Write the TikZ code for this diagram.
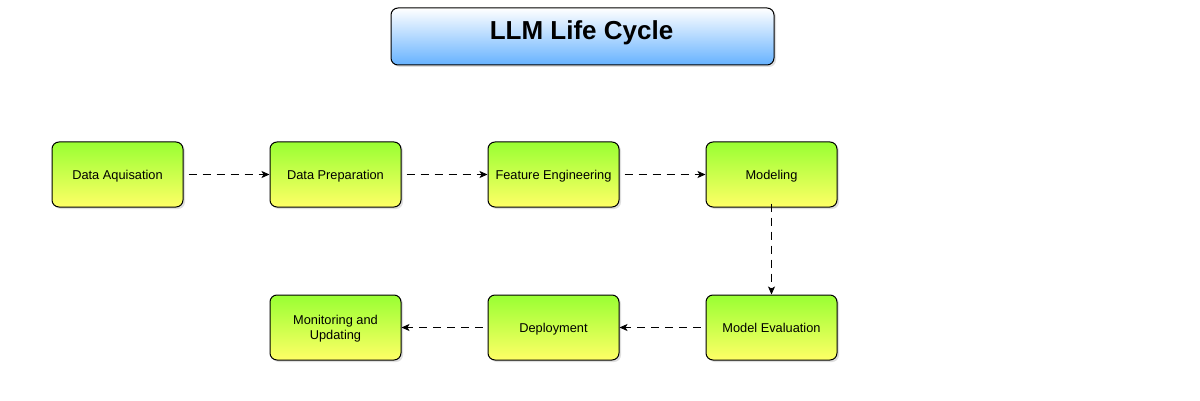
\documentclass[tikz,border=0pt]{standalone}
\usepackage{fontspec}
\setmainfont{Liberation Sans}
\usetikzlibrary{arrows.meta,shadows}
\definecolor{boxtop}{HTML}{99FF33}
\definecolor{boxbot}{HTML}{FFFF66}
\definecolor{titlebot}{HTML}{66B2FF}
\tikzset{
  stagebox/.style={draw=black, line width=1pt, rounded corners=7pt, minimum width=131pt, minimum height=65pt,
    top color=boxtop, bottom color=boxbot, align=center, font=\fontsize{12.8}{15.5}\selectfont,
    text depth=0pt,
    drop shadow={shadow xshift=2pt, shadow yshift=-2pt, opacity=0.25}},
  titlebox/.style={draw=black, line width=1pt, rounded corners=7pt, minimum width=383pt, minimum height=57pt,
    top color=white, bottom color=titlebot,
    drop shadow={shadow xshift=2pt, shadow yshift=-2pt, opacity=0.25}},
  titletext/.style={font=\bfseries\fontsize{26}{30}\selectfont},
  flow/.style={draw=black, line width=0.8pt, dash pattern=on 8pt off 6pt, -{Stealth[length=8pt,width=7pt,inset=2pt]}}
}
\begin{document}
\begin{tikzpicture}[x=1pt,y=-1pt]
\useasboundingbox (0,0) rectangle (1200,401);
\node[titlebox] (title) at (582.5,36.5) {};
\node[titletext] (titlelabel) at (581.5,33) {LLM Life Cycle};
\node[stagebox] (acq) at (117.5,174.5) {Data Aquisation};
\node[stagebox] (prep) at (335.5,174.5) {Data Preparation};
\node[stagebox] (feat) at (553.5,174.5) {Feature Engineering};
\node[stagebox] (model) at (771.5,174.5) {Modeling};
\node[stagebox] (eval) at (771.5,327.5) {Model Evaluation};
\node[stagebox] (dep) at (553.5,327.5) {Deployment};
\node[stagebox] (mon) at (335.5,327.5) {Monitoring and\\Updating};
\draw[flow] ([xshift=5pt]acq.east) -- (prep.west);
\draw[flow] ([xshift=5pt]prep.east) -- (feat.west);
\draw[flow] ([xshift=5pt]feat.east) -- (model.west);
\draw[flow] ([yshift=4pt]model.south) -- (eval.north);
\draw[flow] ([xshift=-5pt]eval.west) -- (dep.east);
\draw[flow] ([xshift=-5pt]dep.west) -- (mon.east);
\end{tikzpicture}
\end{document}
